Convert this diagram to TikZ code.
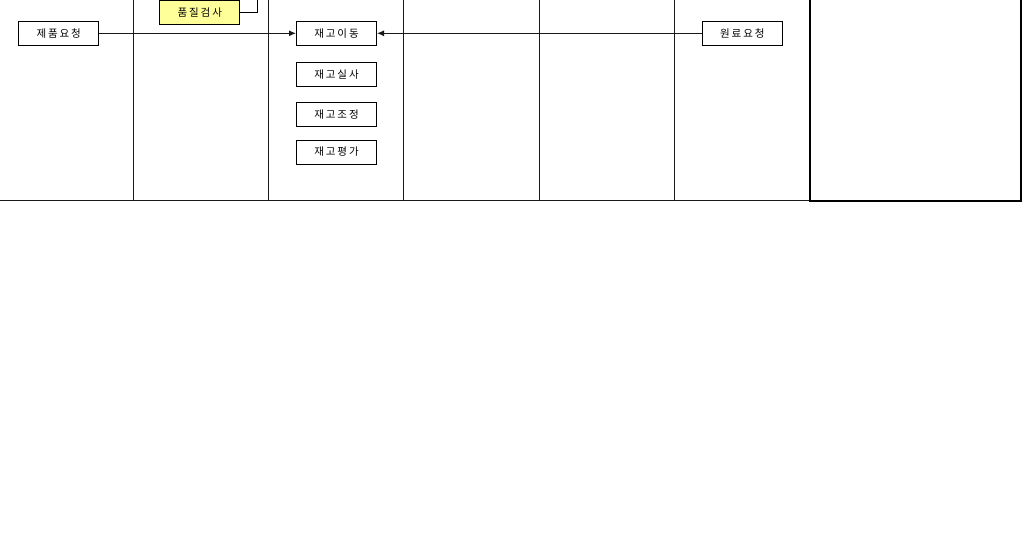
\documentclass[tikz,border=0pt]{standalone}
\usepackage{fontspec}
\usetikzlibrary{arrows.meta}
\newfontfamily\kr[LetterSpace=18]{Noto Sans CJK KR}
\definecolor{qcyellow}{RGB}{255,255,153}
\begin{document}
\begin{tikzpicture}[x=1pt,y=-1pt,
  box/.style={draw=black,line width=1pt,minimum width=80pt,minimum height=24pt,inner sep=0pt,font=\kr\fontsize{10.5}{12}\selectfont},
  lane/.style={line width=1pt,draw=black!90},
  arr/.style={-{Latex[length=7pt,width=6pt]},line width=1pt,draw=black!90}]
\fill[white] (0,0) rectangle (1024,533);
\path[use as bounding box] (0,0) rectangle (1024,533);
% lanes
\foreach \x in {133.5,268.5,403.5,539.5,674.5}
  \draw[lane] (\x,0) -- (\x,200.5);
\draw[lane] (0,200.5) -- (810,200.5);
\draw[line width=2pt] (810,0) -- (810,201) -- (1020.5,201) -- (1020.5,0);
% nodes
\node[box] (req) at (58.7,33.3) {제품요청};
\node[box,fill=qcyellow] (qc) at (199.8,12.2) {품질검사};
\node[box] (mv) at (336.5,33.3) {재고이동};
\node[box] (raw) at (742.3,33.3) {원료요청};
\node[box] (sil) at (336.5,74.3) {재고실사};
\node[box] (adj) at (336.5,114.5) {재고조정};
\node[box] (val) at (336.5,152) {재고평가};
\coordinate (qtop) at (257.5,0);
% connectors
\draw[line width=1pt] (qc.east) -- (qtop |- qc.east) -- (qtop);
\draw[arr] (req) -- (mv);
\draw[arr] (raw) -- (mv);
\end{tikzpicture}
\end{document}
